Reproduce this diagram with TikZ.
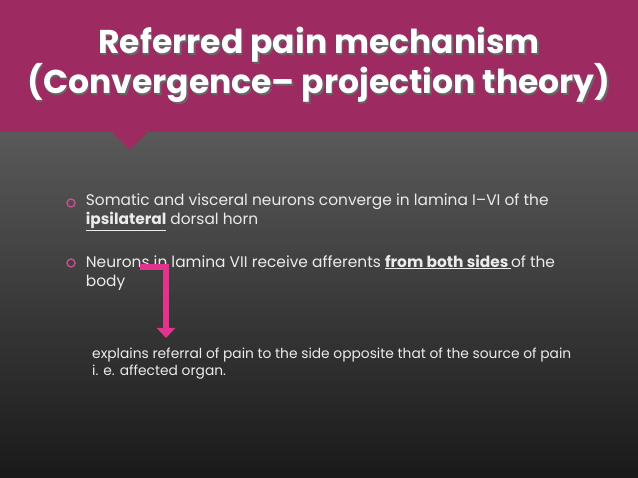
\documentclass[tikz,border=0pt]{standalone}
\usepackage{fontspec}
\setmainfont{Poppins}
\usetikzlibrary{positioning,arrows.meta}
\definecolor{band}{HTML}{9E2A62}
\definecolor{hotpink}{HTML}{E2348F}
\definecolor{bullet}{HTML}{C8508E}
\tikzset{
  bodytext/.style={text=white!92!black,font=\fontsize{15.4}{19}\selectfont,anchor=west,inner sep=0pt},
  smalltext/.style={text=white!92!black,font=\fontsize{13.8}{17}\selectfont,anchor=west,inner sep=0pt},
  ring/.style={circle,draw=bullet,line width=1.4pt,minimum size=8pt,inner sep=0pt},
  titletext/.style={font=\bfseries\fontsize{33}{40}\selectfont,align=center}
}
\newcommand{\ul}[1]{\underline{\textbf{#1}}}
\begin{document}
\begin{tikzpicture}[x=1pt,y=1pt]
        \useasboundingbox (0,0) rectangle (638,478);
        \shade[top color=black!65,bottom color=black!90] (0,0) rectangle (638,346);
        \fill[band] (0,346) -- (112,346) -- (130,328) -- (148,346) -- (638,346) -- (638,478) -- (0,478) -- cycle;
        \node[titletext,text=black!60] at (320.5,411.5)
            {Referred pain mechanism\\(Convergence-- projection theory)};
        \node[titletext,text=white] (title) at (319,413)
            {Referred pain mechanism\\(Convergence-- projection theory)};
        \node[ring] (b1) at (71,275) {};
        \node[bodytext,right=10pt of b1.east,yshift=-9.5pt,align=left] (p1)
            {Somatic and visceral neurons converge in lamina I--VI of the\\\ul{ipsilateral} dorsal horn};
        \node[ring] (b2) at (71,215) {};
        \node[bodytext,right=10pt of b2.east,yshift=-9.5pt,align=left] (p2)
            {Neurons in lamina VII receive afferents \ul{from both sides\,}of the\\body};
        \node[smalltext,align=left] (note) at (92,114)
            {explains referral of pain to the side opposite that of the source of pain\\i. e. affected organ.};
        \coordinate (start) at (140,211);
        \coordinate (bend) at (166,211);
        \coordinate (tip) at (166,140);
        \draw[hotpink,line width=5.5pt,-{Triangle[width=18pt,length=10pt]}] (start) -- (bend) -- (tip);
\end{tikzpicture}
\end{document}
